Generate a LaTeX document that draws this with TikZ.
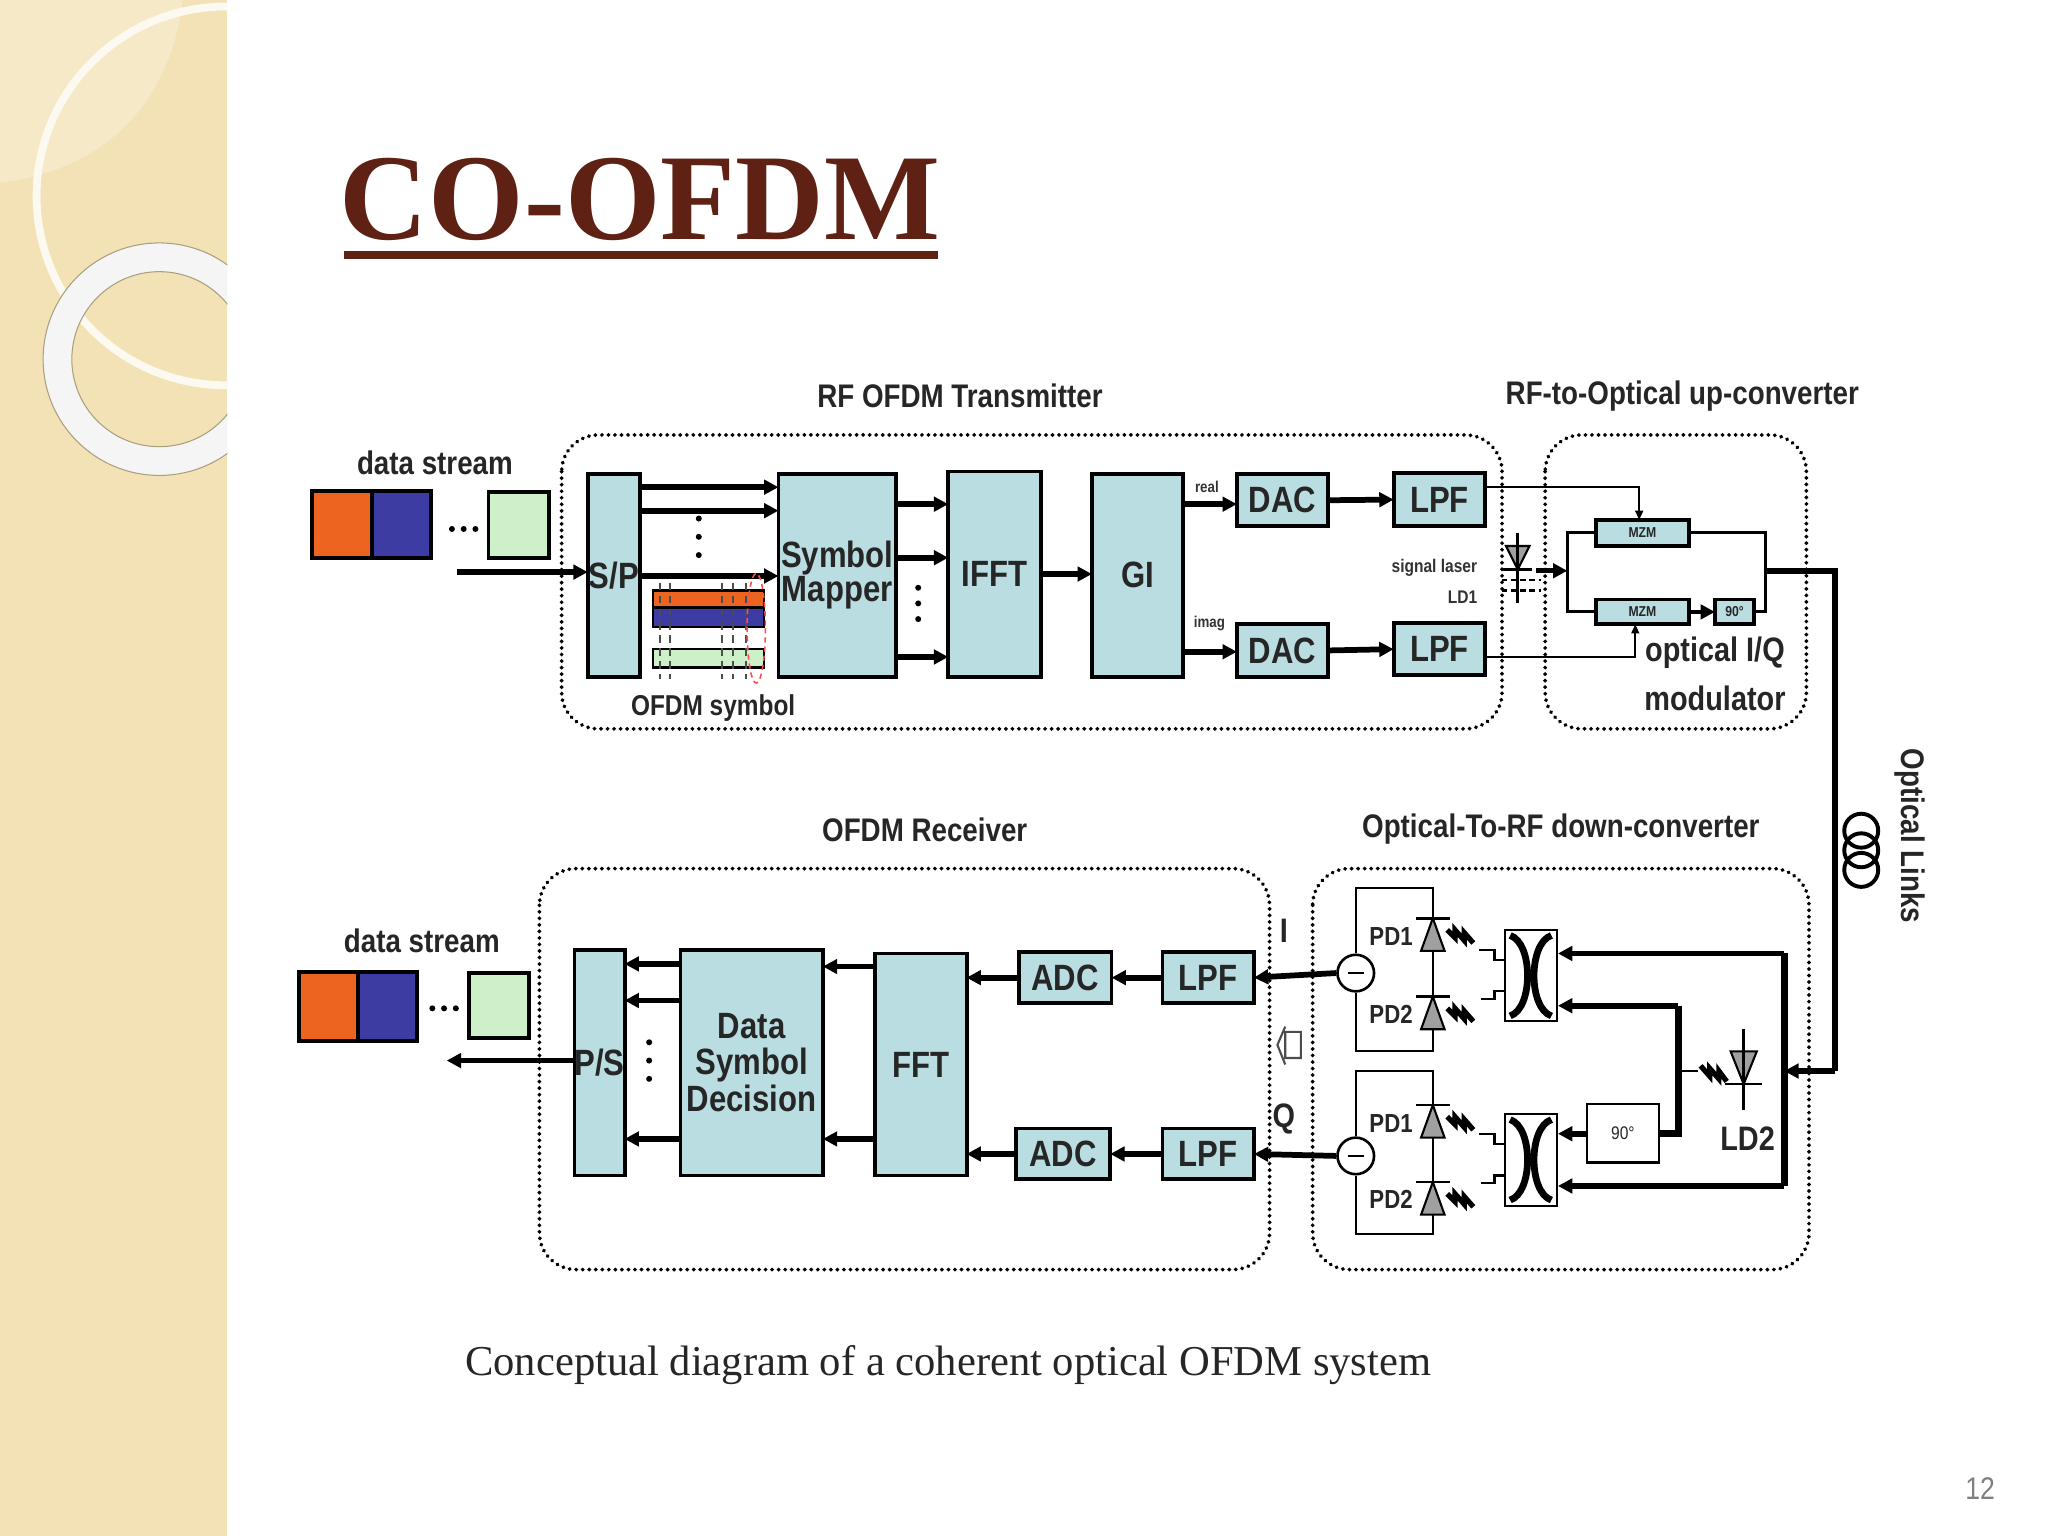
\documentclass[tikz,border=0pt]{standalone}
\usepackage{fontspec}
\usetikzlibrary{arrows.meta,calc}
\newfontfamily\df{Liberation Sans}[FakeStretch=0.85]
\newfontfamily\tf{Liberation Serif}
\definecolor{side}{HTML}{F2E2B6}
\definecolor{boxc}{HTML}{B9DDE0}
\definecolor{ttl}{HTML}{5E2113}
\definecolor{ora}{HTML}{EC6420}
\definecolor{blu}{HTML}{3C3CA2}
\definecolor{grn}{HTML}{CDF0C9}
\definecolor{dgray}{HTML}{A0A0A0}
\newcommand\bx[7][]{\node[box,#1,minimum width={(#5-#3)*0.5pt},minimum height={(#6-#4)*0.5pt}] (#2) at ({(#3+#5)/2},{(#4+#6)/2}) {#7};}
\newcommand\pdi[2]{% photodiode pointing up, centre (#1,#2)
  \fill[dgray] ({#1-9},{#2+13}) -- ({#1+9},{#2+13}) -- (#1,{#2-12}) -- cycle;
  \draw[line width=0.8pt] ({#1-9},{#2+13}) -- ({#1+9},{#2+13}) -- (#1,{#2-12}) -- cycle;
  \draw[line width=1pt] ({#1-13},{#2-12}) -- ({#1+13},{#2-12});
  \draw[line width=2pt] ({#1+11},{#2-3}) -- ({#1+17},{#2+3}) -- ({#1+17},{#2-3}) -- ({#1+24},{#2+5}) -- ({#1+24},{#2-1}) -- ({#1+31},{#2+7});}
\begin{document}
\begin{tikzpicture}[x=0.5pt,y=-0.5pt,
  box/.style={draw,line width=1.5pt,fill=boxc,inner sep=0pt,outer sep=0pt,font=\df\bfseries\fontsize{14}{15}\selectfont,align=center,text=black!85},
  ar/.style={line width=2.2pt,-{Triangle[length=5.5pt,width=5.5pt]}},
  tn/.style={line width=0.8pt},
  tna/.style={line width=0.8pt,-{Triangle[length=3.5pt,width=3pt]}},
  dots/.style={draw,line width=1.5pt,dash pattern=on 0.1pt off 2.4pt,line cap=round,rounded corners=14pt},
  hd/.style={font=\df\bfseries\fontsize{12.5}{13}\selectfont,text=black!85},
  sm/.style={font=\df\bfseries\fontsize{6}{7}\selectfont,text=black!80}]
\useasboundingbox (0,0) rectangle (1568,1176);
\fill[white] (0,0) rectangle (1568,1176);
% sidebar
\begin{scope}
\clip (0,0) rectangle (174,1176);
\fill[side] (0,0) rectangle (174,1176);
\fill[white,opacity=0.25] (0,140) -- (0,0) -- (140,0) .. controls (130,80) and (80,130) .. (0,140) -- cycle;
\draw[white!80!side,line width=3pt] (173,150) circle[radius=145];
\fill[even odd rule,fill=gray!8!white,draw=side!70!black,line width=0.4pt] (122,275) circle[radius=89] (122,275) circle[radius=67];
\end{scope}
% title
\node[font=\tf\bfseries\fontsize{47}{50}\selectfont,text=ttl,anchor=base] (title) at (490,183) {CO-OFDM};
\fill[ttl] (263,192) rectangle (718,198);
% caption
\node[font=\tf\fontsize{16.3}{18}\selectfont,text=black!85,anchor=base] (cap) at (726,1053) {Conceptual diagram of a coherent optical OFDM system};
\node[font=\df\fontsize{12}{14}\selectfont,text=gray] (pg) at (1516,1140) {12};
% ===== transmitter =====
\node[hd] (h1) at (735,303) {RF OFDM Transmitter};
\node[hd] (h2) at (1288,303) {RF-to-Optical up-converter};
\draw[dots] (430,333) rectangle (1150,558);
\draw[dots] (1183,333) rectangle (1383,558);
\node[hd] (ds1) at (333,354) {data stream};
\draw[line width=1.5pt,fill=ora] (239,376) rectangle (285,427);
\draw[line width=1.5pt,fill=blu] (285,376) rectangle (330,427);
\draw[line width=1.5pt,fill=grn] (374,377) rectangle (420,427);
\foreach \x in {346,355,364} \fill (\x,405) circle[radius=2.3];
\coordinate (in1) at (350,438);
\bx{sp}{450}{363}{490}{518}{S/P}
\bx{map}{596}{363}{686}{518}{Symbol\\[-2pt]Mapper}
\bx{ifft}{726}{361}{797}{518}{IFFT}
\bx{gi}{836}{363}{906}{518}{GI}
\bx{dac1}{947}{363}{1017}{403}{DAC}
\bx{dac2}{947}{478}{1017}{518}{DAC}
\bx{lpf1}{1067}{362}{1137}{403}{LPF}
\bx{lpf2}{1067}{477}{1137}{517}{LPF}
\draw[ar] (in1) -- (in1 -| sp.west);
\foreach \y in {373,391,441}{\coordinate (a) at (0,\y); \draw[ar] (sp.east |- a) -- (map.west |- a);}
\foreach \y in {397,411,425} \fill (535,\y) circle[radius=2.3];
\foreach \y in {386,427,503}{\coordinate (a) at (0,\y); \draw[ar] (map.east |- a) -- (ifft.west |- a);}
\foreach \y in {450,462,474} \fill (703,\y) circle[radius=2.3];
\draw[ar] (ifft.east) -- (gi.west |- ifft.east);
\coordinate (r1) at (0,386); \coordinate (r2) at (0,499);
\draw[ar] (gi.east |- r1) -- (dac1.west |- r1);
\draw[ar] (gi.east |- r2) -- (dac2.west |- r2);
\node[sm] (real) at (924,373) {real};
\node[sm] (imag) at (926,477) {imag};
\draw[ar] (dac1.east) -- (lpf1.west);
\draw[ar] (dac2.east) -- (lpf2.west);
% OFDM symbol
\draw[line width=1pt,fill=ora] (500,452) rectangle (585,465);
\draw[line width=1pt,fill=blu] (500,465) rectangle (585,480);
\draw[line width=1pt,fill=grn] (500,497) rectangle (585,511);
\foreach \x in {505,513,553,561,571} \draw[line width=0.8pt,dash pattern=on 3pt off 2pt,black!70] (\x,446) -- (\x,520);
\draw[red!70,line width=0.6pt,dash pattern=on 2pt off 1.5pt] (579,481) ellipse[x radius=7,y radius=42];
\node[hd,font=\df\bfseries\fontsize{11}{12}\selectfont] (ofs) at (546,542) {OFDM symbol};
% up-converter
\bx[font=\df\bfseries\fontsize{5.5}{6}\selectfont]{mzm1}{1222}{398}{1293}{418}{MZM}
\bx[font=\df\bfseries\fontsize{5.5}{6}\selectfont]{mzm2}{1222}{459}{1293}{478}{MZM}
\bx[font=\df\bfseries\fontsize{5.5}{6}\selectfont]{ps}{1313}{459}{1343}{478}{90°}
\draw[tna] (lpf1.east |- 0,373) -| (mzm1.north -| 1255,0);
\draw[tna] (lpf2.east |- 0,503) -| (mzm2.south -| 1252,0);
\draw[ar,line width=1.5pt] (mzm2.east) -- (ps.west);
\node[sm,anchor=east,font=\df\bfseries\fontsize{7}{8}\selectfont] (sl) at (1138,435) {signal laser};
\node[sm,anchor=east,font=\df\bfseries\fontsize{7}{8}\selectfont] (ld1t) at (1138,457) {LD1};
% LD1 symbol
\fill[dgray] (1153,418) -- (1171,418) -- (1162,436) -- cycle;
\draw[line width=0.8pt] (1153,418) -- (1171,418) -- (1162,436) -- cycle;
\draw[line width=1pt] (1151,436) -- (1173,436) (1162,408) -- (1162,462);
\draw[line width=1pt,dash pattern=on 2pt off 1.5pt] (1150,444) -- (1180,444) (1150,452)--(1180,452);
\coordinate (spl) at (1200,437);
\draw[ar,line width=2pt] (1176,437) -- (spl);
\draw[line width=1.2pt] (mzm1.west) -| (spl) |- (mzm2.west);
\draw[line width=1.2pt] (mzm1.east) -| (1352,437) |- (ps.east);
\coordinate (lk) at (1405,820);
\draw[line width=2.2pt] (1352,437) -| (lk);
\node[hd,font=\df\bfseries\fontsize{13}{14}\selectfont] (oiq) at (1313,500) {optical I/Q};
\node[hd,font=\df\bfseries\fontsize{13}{14}\selectfont] (modt) at (1313,535) {modulator};
% optical links
\foreach \yy in {636,651,666} \draw[line width=1.5pt] (1425,\yy) circle[radius=13];
\node[hd,rotate=-90] (olk) at (1462,640) {Optical Links};
% ===== receiver =====
\node[hd] (h3) at (708,635) {OFDM Receiver};
\node[hd] (h4) at (1195,635) {Optical-To-RF down-converter};
\draw[dots] (413,665) rectangle (972,972);
\draw[dots] (1005,665) rectangle (1385,972);
\node[hd] (ds2) at (323,720) {data stream};
\draw[line width=1.5pt,fill=ora] (229,744) rectangle (274,797);
\draw[line width=1.5pt,fill=blu] (274,744) rectangle (319,797);
\draw[line width=1.5pt,fill=grn] (359,745) rectangle (405,795);
\foreach \x in {331,340,349} \fill (\x,772) circle[radius=2.3];
\bx{pss}{440}{727}{478}{900}{P/S}
\bx{dsd}{521}{727}{630}{900}{Data\\[-1pt]Symbol\\[-1pt]Decision}
\bx{fft}{670}{730}{740}{900}{FFT}
\bx{adc1}{780}{729}{851}{768}{ADC}
\bx{adc2}{778}{864}{850}{903}{ADC}
\bx{lpf3}{890}{729}{960}{768}{LPF}
\bx{lpf4}{890}{864}{960}{903}{LPF}
\coordinate (out) at (342,812);
\draw[ar] (pss.west |- out) -- (out);
\foreach \y in {738,766,872}{\coordinate (a) at (0,\y); \draw[ar] (dsd.west |- a) -- (pss.east |- a);}
\foreach \y in {798,812,826} \fill (497,\y) circle[radius=2.3];
\foreach \y in {740,872}{\coordinate (a) at (0,\y); \draw[ar] (fft.west |- a) -- (dsd.east |- a);}
\draw[ar] (adc1.west) -- (fft.east |- adc1.west);
\draw[ar] (adc2.west) -- (fft.east |- adc2.west);
\draw[ar] (lpf3.west) -- (adc1.east);
\draw[ar] (lpf4.west) -- (adc2.east);
\node[draw,circle,line width=1pt,fill=white,minimum size=14pt,inner sep=0pt] (s1) at (1038,745) {};
\node[draw,circle,line width=1pt,fill=white,minimum size=14pt,inner sep=0pt] (s2) at (1038,885) {};
\draw[line width=1pt] (1032,745) -- (1044,745) (1032,885) -- (1044,885);
\draw[ar] (s1.west) -- (lpf3.east);
\draw[ar] (s2.west) -- (lpf4.east);
\node[hd,font=\df\bfseries\fontsize{13}{14}\selectfont] (il) at (983,713) {I};
\node[hd,font=\df\bfseries\fontsize{13}{14}\selectfont] (ql) at (983,857) {Q};
\draw[line width=0.8pt,black!70] (984,790) rectangle (996,810) (984,786) -- (978,800) -- (984,815);
% PD loops
\draw[tn] (s1.north) |- (1097,680) -- (1097,805) -| (s1.south);
\draw[tn] (s2.north) |- (1097,820) -- (1097,945) -| (s2.south);
\pdi{1097}{715}\pdi{1097}{775}\pdi{1097}{858}\pdi{1097}{917}
\foreach \t/\y in {PD1/717,PD2/777,PD1/860,PD2/918} \node[hd,font=\df\bfseries\fontsize{10}{11}\selectfont] at (1065,\y) {\t};
% couplers
\node[draw,line width=0.8pt,minimum width=20pt,minimum height=35pt,inner sep=0pt] (c1) at (1172,747) {};
\node[draw,line width=0.8pt,minimum width=20pt,minimum height=35pt,inner sep=0pt] (c2) at (1172,888) {};
\foreach \c in {c1,c2}{
 \draw[line width=2.6pt] ($(\c.north west)+(5,5)$) .. controls ($(\c.center)+(2,-25)$) and ($(\c.center)+(2,25)$) .. ($(\c.south west)+(5,-5)$);
 \draw[line width=2.6pt] ($(\c.north east)+(-5,5)$) .. controls ($(\c.center)+(-2,-25)$) and ($(\c.center)+(-2,25)$) .. ($(\c.south east)+(-5,-5)$);
 \draw[tn] ($(\c.west)+(0,-12)$) -- ++(-7,0) -- ++(0,-8) -- ++(-12,0);
 \draw[tn] ($(\c.west)+(0,12)$) -- ++(-7,0) -- ++(0,6) -- ++(-10,0);}
\coordinate (bus) at (1366,820);
\draw[ar] (lk) -- (bus);
\coordinate (t1) at (0,730); \coordinate (t2) at (0,908);
\draw[line width=2.6pt] (1366,730) -- (1366,908);
\draw[ar] (1366,730) -- (c1.east |- t1);
\draw[ar] (1366,908) -- (c2.east |- t2);
\bx[fill=white,line width=0.8pt,font=\df\fontsize{7}{8}\selectfont]{ps2}{1215}{845}{1270}{890}{90°}
\coordinate (t3) at (0,770); \coordinate (t4) at (0,868);
\draw[line width=2.6pt] (1285,770) -- (1285,868) -- (ps2.east |- t4);
\draw[ar] (1285,770) -- (c1.east |- t3);
\draw[ar] (ps2.west |- t4) -- (c2.east |- t4);
% LD2
\fill[dgray] (1325,805) -- (1345,805) -- (1335,830) -- cycle;
\draw[line width=0.8pt] (1325,805) -- (1345,805) -- (1335,830) -- cycle;
\draw[line width=1pt] (1321,830) -- (1349,830) (1335,788) -- (1335,850);
\draw[line width=2pt] (1322,828) -- (1316,820) -- (1316,826) -- (1309,818) -- (1309,824) -- (1302,816);
\draw[tn] (1285,820) -- (1300,820);
\node[hd,font=\df\bfseries\fontsize{13}{14}\selectfont] (ld2) at (1338,872) {LD2};
\end{tikzpicture}
\end{document}
